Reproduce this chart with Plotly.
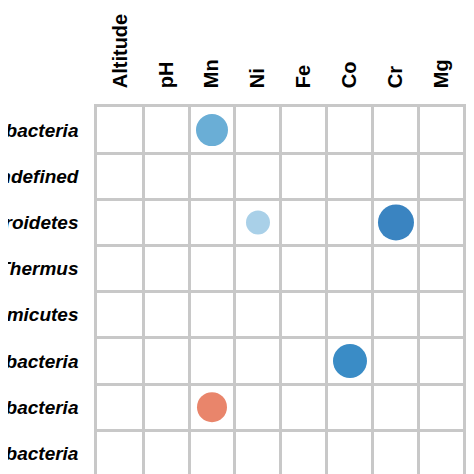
import plotly.graph_objects as go

columns = ["Altitude", "pH", "Mn", "Ni", "Fe", "Co", "Cr", "Mg", "K"]
rows = ["Acidobacteria", "Undefined", "Bacteroidetes", "Deinococcus-Thermus",
        "Firmicutes", "Actinobacteria", "Proteobacteria", "Cyanobacteria"]

pt_col = ["Mn", "K", "K", "Ni", "Cr", "K", "Co", "K", "Mn", "K"]
pt_row = ["Acidobacteria", "Acidobacteria", "Undefined", "Bacteroidetes", "Bacteroidetes",
          "Firmicutes", "Actinobacteria", "Actinobacteria", "Proteobacteria", "Proteobacteria"]
pt_size = [32, 38, 28, 24, 36, 34, 34, 30, 30, 36]
pt_color = ["#6aaed6", "#9a0e26", "#80bbdf", "#a9d0e8", "#3a84c1", "#d2504b",
            "#3a8cc6", "#f2a684", "#e9856b", "#2d70b3"]

xi = [columns.index(c) for c in pt_col]
yi = [rows.index(r) for r in pt_row]

fig = go.Figure(go.Scatter(
    x=xi, y=yi, mode="markers",
    marker=dict(size=pt_size, color=pt_color, opacity=1, line=dict(width=0)),
    cliponaxis=True, hoverinfo="skip"))

grid = dict(tick0=0.5, dtick=1, showgrid=True, gridcolor="#c8c8c8", gridwidth=2.5)
fig.update_layout(
    width=474, height=474, paper_bgcolor="white", plot_bgcolor="white",
    margin=dict(l=89, r=0, t=99, b=0), showlegend=False,
    xaxis=dict(range=[-0.5, 7.87], side="top", tickvals=list(range(len(columns))),
               ticktext=["<b>%s</b>" % c for c in columns], tickangle=-90,
               showgrid=False, zeroline=False, automargin=False,
               ticks="", ticklabelstandoff=12,
               tickfont=dict(family="Liberation Sans", size=20, color="black"),
               minor=grid, showline=True, linecolor="#c8c8c8", linewidth=2.5),
    yaxis=dict(range=[7.62, -0.5], tickvals=list(range(len(rows))),
               ticktext=["<b><i>%s</i></b>" % r for r in rows], showgrid=False,
               zeroline=False, automargin=False, ticks="", ticklabelstandoff=12,
               tickfont=dict(family="Liberation Sans", size=19, color="black"),
               minor=grid, showline=True, linecolor="#c8c8c8", linewidth=2.5),
)
fig.write_html("out.html")
